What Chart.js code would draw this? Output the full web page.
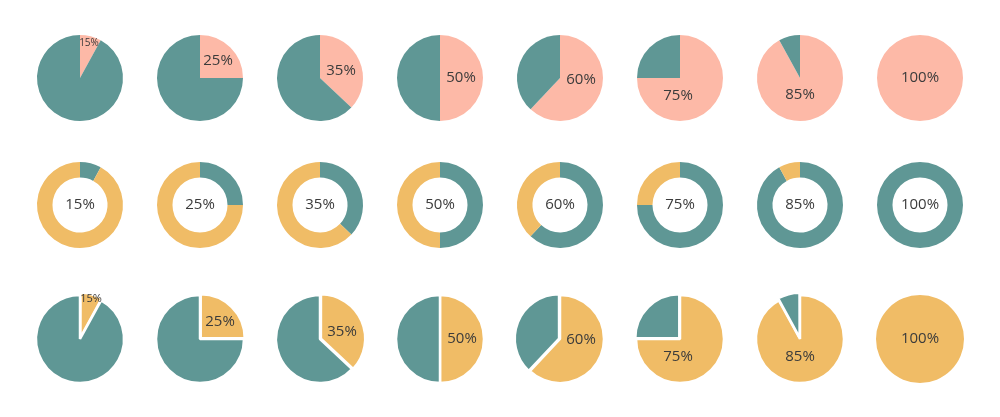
<!DOCTYPE html>
<html>
<head>
<meta charset="utf-8">
<script src="https://cdn.jsdelivr.net/npm/chart.js@4.4.0/dist/chart.umd.min.js"></script>
<style>
  html, body { margin: 0; padding: 0; background: #fff; }
  #wrap { position: relative; width: 1000px; height: 417px; overflow: hidden; }
  #wrap canvas { position: absolute; }
</style>
</head>
<body>
<div id="wrap"></div>
<script>
// text printed on each chart
const percentLabels = ["15%", "25%", "35%", "50%", "60%", "75%", "85%", "100%"];
// share of the circle the highlighted wedge actually covers
const drawnShares = [8, 25, 37, 50, 62, 75, 92, 100];

const TEAL = "#5f9795";
const SALMON = "#fdb9a7";
const YELLOW = "#f0bc66";
const TEXT = "#3b3b3b";

// where the label sits relative to the pie centre (px)
const pieLabelOffsets = [[9, -35], [18, -17], [21, -7], [21, 0], [21, 2], [-2, 18], [0, 17], [0, 0]];
const gapLabelOffsets = [[11, -40], [20, -17], [22, -7], [22, 0], [21, 1], [-2, 18], [0, 18], [0, 0]];

const rows = [
  { type: "pie", colors: [SALMON, TEAL], cy: 78, gap: false, offsets: pieLabelOffsets },
  { type: "doughnut", colors: [TEAL, YELLOW], cy: 205, gap: false, offsets: null },
  { type: "pie", colors: [YELLOW, TEAL], cy: 339, gap: true, offsets: gapLabelOffsets },
];

const SIZE = 120;

const percentText = {
  id: "percentText",
  afterDraw(chart, args, opts) {
    const arc = chart.getDatasetMeta(0).data[0];
    const ctx = chart.ctx;
    ctx.save();
    ctx.fillStyle = TEXT;
    ctx.font = opts.size + "px 'Open Sans'";
    ctx.textAlign = "center";
    ctx.textBaseline = "middle";
    ctx.fillText(opts.text, arc.x + opts.dx, arc.y + opts.dy);
    ctx.restore();
  }
};

function build() {
  const wrap = document.getElementById("wrap");
  rows.forEach((row) => {
    drawnShares.forEach((share, i) => {
      const canvas = document.createElement("canvas");
      canvas.width = SIZE;
      canvas.height = SIZE;
      canvas.style.left = (80 + 120 * i - SIZE / 2) + "px";
      canvas.style.top = (row.cy - SIZE / 2) + "px";
      wrap.appendChild(canvas);

      const values = [share, 100 - share].filter((v) => v > 0);
      const colors = row.colors.slice(0, values.length);
      const tiny = share < 12 || share > 88;
      const offsets = values.map((v) => {
        if (!row.gap || values.length < 2 || v >= 50) return 0;
        return tiny ? 6 : 4;
      });
      const off = row.offsets ? row.offsets[i] : [0, 0];
      const small = row.offsets && i === 0;

      new Chart(canvas, {
        type: row.type,
        data: {
          labels: values.map((v, k) => (k === 0 ? percentLabels[i] : "rest")),
          datasets: [{
            data: values,
            backgroundColor: colors,
            borderColor: "#ffffff",
            borderWidth: row.gap && values.length > 1 ? 2.5 : 0,
            offset: offsets,
          }],
        },
        options: {
          responsive: false,
          animation: false,
          events: [],
          radius: row.gap ? 44 : 43,
          cutout: row.type === "doughnut" ? "64%" : 0,
          layout: { padding: 0 },
          plugins: {
            legend: { display: false },
            tooltip: { enabled: false },
            percentText: {
              text: percentLabels[i],
              size: small ? (row.gap ? 11 : 10) : 15,
              dx: off[0],
              dy: off[1],
            },
          },
        },
        plugins: [percentText],
      });
    });
  });
}

document.fonts.load("15px 'Open Sans'").then(build, build);
</script>
</body>
</html>
